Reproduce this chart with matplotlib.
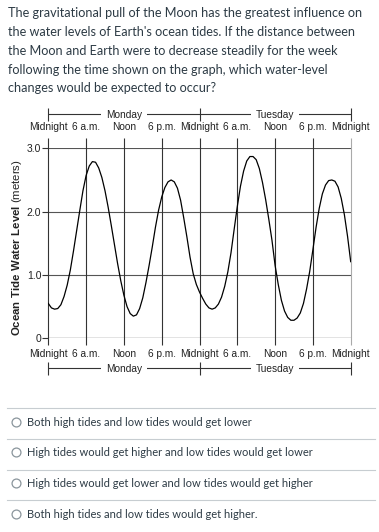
import matplotlib.pyplot as plt
import numpy as np

plt.rcParams['mathtext.fontset'] = 'custom'
plt.rcParams['mathtext.rm'] = 'Liberation Sans'
plt.rcParams['mathtext.bf'] = 'Liberation Sans:bold'

# --- data (water level every half hour, Monday 00:00 -> Wednesday 00:00)
hours = np.arange(0, 48.5, 0.5)
level = [0.55, 0.48, 0.46, 0.47, 0.53, 0.66, 0.84, 1.08, 1.38, 1.70,
         2.02, 2.33, 2.57, 2.72, 2.79, 2.78, 2.69, 2.54, 2.33, 2.07,
         1.78, 1.48, 1.18, 0.91, 0.68, 0.50, 0.39, 0.35, 0.37, 0.47,
         0.64, 0.88, 1.15, 1.44, 1.75, 2.02, 2.23, 2.38, 2.47, 2.50,
         2.47, 2.37, 2.18, 1.90, 1.60, 1.28, 1.02, 0.85, 0.73, 0.63,
         0.54, 0.48, 0.46, 0.48, 0.54, 0.65, 0.82, 1.05, 1.35, 1.72,
         2.08, 2.40, 2.64, 2.80, 2.87, 2.87, 2.82, 2.68, 2.46, 2.19,
         1.88, 1.55, 1.15, 0.85, 0.60, 0.43, 0.33, 0.285, 0.285, 0.32,
         0.40, 0.55, 0.78, 1.06, 1.40, 1.75, 2.05, 2.28, 2.42, 2.49,
         2.50, 2.48, 2.39, 2.21, 1.95, 1.61, 1.21]

time_ticks = [0, 6, 12, 18, 24, 30, 36, 42, 48]
time_labels = ['Midnight', '6 a.m.', 'Noon', '6 p.m.', 'Midnight',
               '6 a.m.', 'Noon', '6 p.m.', 'Midnight']
day_centers = [12, 36]
day_labels = ['Monday', 'Tuesday']
level_ticks = [0, 1, 2, 3]
level_labels = ['0', '1.0', '2.0', '3.0']

question = ["The gravitational pull of the Moon has the greatest influence on",
            "the water levels of Earth's ocean tides. If the distance between",
            "the Moon and Earth were to decrease steadily for the week",
            "following the time shown on the graph, which water-level",
            "changes would be expected to occur?"]
options = ["Both high tides and low tides would get lower",
           "High tides would get higher and low tides would get lower",
           "High tides would get lower and low tides would get higher",
           "Both high tides and low tides would get higher."]

ink = '#2d3b45'
W, H = 379, 532
fig = plt.figure(figsize=(W / 100, H / 100), dpi=100)

# page layer in pixel units
ov = fig.add_axes([0, 0, 1, 1])
ov.set_xlim(0, W)
ov.set_ylim(H, 0)
ov.axis('off')

for i, line in enumerate(question):
    ov.text(8, 17.3 + i * 18.75, line, fontfamily='Lato', fontsize=9.05,
            color=ink, va='baseline')

for i, opt in enumerate(options):
    y0 = 408.3 + i * 30.6
    ov.plot([7, 375], [y0, y0], color='#c7cdd1', lw=0.8)
    ov.plot(16.2, y0 + 13.4, 'o', ms=6.4, mfc='white', mec='#8a959c', mew=0.9)
    ov.text(27.3, y0 + 17.4, opt, fontfamily='Lato', fontsize=8,
            color=ink, va='baseline')

ov.text(17, 247.5, r'$\bf{Ocean\ Tide\ Water\ Level}$ (meters)', rotation=90,
        ha='center', va='center', fontfamily='Liberation Sans', fontsize=8.2,
        color='#222')

# chart
ax = fig.add_axes([48.3 / W, 1 - 338.3 / H, (350.7 - 48.3) / W, 190 / H])
ax.set_facecolor('none')
ax.plot(hours, level, color='black', lw=0.9, zorder=4)
ax.set_xlim(0, 48)
ax.set_ylim(0, 3)
for s in ax.spines.values():
    s.set_visible(False)
ax.set_xticks([])
ax.set_yticks(level_ticks)
ax.set_yticklabels(level_labels, fontfamily='Liberation Sans', fontsize=7.5, color='#222')
ax.tick_params(axis='y', length=4, width=0.8, pad=1, color='#333')

ax.hlines([1, 2, 3], 0, 48, color='#555', lw=0.8)
ax.hlines(0, 0, 48, color='#222', lw=0.9)

tr = ax.get_xaxis_transform()
line_kw = dict(transform=tr, clip_on=False, lw=0.8)
ax.vlines(time_ticks[:-1], -0.035, 1.056, color='#333', **line_kw)
ax.vlines(time_ticks[-1], -0.035, 1.056, color='#aaa', **line_kw)
for yb, (t0, t1) in [(1.179, (1.1437, 1.2105)), (-0.1547, (-0.193, -0.123))]:
    ax.hlines(yb, 0, 48, color='#333', **line_kw)
    ax.vlines(time_ticks[::4], t0, t1, color='#333', **line_kw)

txt_kw = dict(transform=tr, ha='center', va='baseline', fontfamily='Liberation Sans',
              fontsize=7.3, color='#222', clip_on=False)
for t, lab in zip(time_ticks, time_labels):
    ax.text(t, 1.094, lab, zorder=6, **txt_kw)
    ax.text(t, -0.0968, lab, zorder=6, **txt_kw)
for c, lab in zip(day_centers, day_labels):
    for yb in (1.157, -0.1758):
        ax.text(c, yb, lab, zorder=5,
                bbox=dict(facecolor='white', edgecolor='none', pad=1.0,
                          boxstyle='square,pad=0.5'), **txt_kw)

fig.savefig('out.png', dpi=100)
